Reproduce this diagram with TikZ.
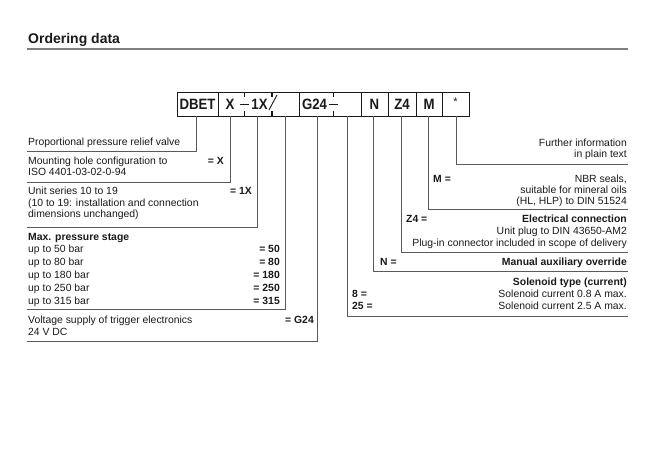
\documentclass[tikz,border=0pt]{standalone}
\usepackage{fontspec}
\setmainfont{Liberation Sans}
\newfontfamily\codefont[FakeStretch=0.88]{Liberation Sans}
\definecolor{ln}{HTML}{5A5A5A}
\definecolor{tx}{HTML}{1A1A1A}
\tikzset{
  txt/.style={inner sep=0pt, text height=7.5bp, text depth=2bp, font=\fontsize{10.4bp}{12bp}\selectfont, text=tx},
  btxt/.style={txt, font=\fontsize{10.4bp}{12bp}\selectfont\bfseries},
  cell/.style={draw=tx, line width=1.1bp, minimum height=24bp, inner sep=0pt, anchor=north west},
  code/.style={inner sep=0pt, font=\codefont\bfseries\fontsize{15bp}{18bp}\selectfont, text=tx},
  conn/.style={draw=ln, line width=1bp},
  tick/.style={draw=tx, line width=0.9bp},
}
\begin{document}
\begin{tikzpicture}[x=1bp,y=-1bp]
\fill[white] (0,0) rectangle (650,465);
\useasboundingbox (0,0) rectangle (650,465);

% title
\node[inner sep=0pt, anchor=west, font=\fontsize{14bp}{16bp}\selectfont\bfseries, text=tx] (title) at (28,40) {Ordering data};
\draw[line width=1.8bp, draw=black!50] (27,49) -- (628,49);

% code cells
\node[cell, minimum width=41bp] (k1) at (177,92) {};
\node[cell, minimum width=81bp] (k2) at (218,92) {};
\node[cell, minimum width=62bp] (k3) at (299,92) {};
\node[cell, minimum width=27bp] (k4) at (361,92) {};
\node[cell, minimum width=28bp] (k5) at (388,92) {};
\node[cell, minimum width=26bp] (k6) at (416,92) {};
\node[cell, minimum width=27bp] (k7) at (442,92) {};

\node[code] (cDBET) at (197.5,104) {DBET};
\node[code] (cX) at (230,104) {X};
\node[code] (c1X) at (259.5,104) {1X};
\node[code] (cG) at (314.5,104) {G24};
\node[code] (cN) at (374.5,104) {N};
\node[code] (cZ) at (402,104) {Z4};
\node[code] (cM) at (429,104) {M};
\node[inner sep=0pt, font=\fontsize{11bp}{12bp}\selectfont, text=tx] (cS) at (455.5,102) {*};

% separators inside code
\draw[tick] (244,92) -- (244,97) (244,111) -- (244,116);
\draw[tick] (239.5,104) -- (248.5,104);
\draw[tick, line width=2bp] (272,92) -- (272,97) (272,111) -- (272,116);
\draw[tick] (269,110) -- (277,95);
\draw[tick] (333,92) -- (333,97) (333,111) -- (333,116);
\draw[tick] (328.5,104) -- (337.5,104);

% connector coordinates
\foreach \n/\x in {a/196,b/230,c/257,d/285,e/317,f/347,g/373,h/401,i/428,j/456}
  \coordinate (t\n) at (\x,116);
\coordinate (ea) at (27,152);
\coordinate (eb) at (27,183);
\coordinate (ec) at (27,228);
\coordinate (ed) at (27,309.5);
\coordinate (ee) at (27,341);
\coordinate (ef) at (628,316);
\coordinate (eg) at (628,272);
\coordinate (eh) at (628,253);
\coordinate (ei) at (628,209.5);
\coordinate (ej) at (628,165);
\foreach \n in {a,b,c,d,e,f,g,h,i,j}
  \draw[conn] (t\n) |- (e\n);

% left descriptions
\node[txt, anchor=west] (l1) at (28,143) {Proportional pressure relief valve};
\node[txt, anchor=west] (l2a) at (28,162) {Mounting hole configuration to};
\node[txt, anchor=west] (l2b) at (28,172.5) {ISO 4401-03-02-0-94};
\node[btxt, anchor=east] (v2) at (224,162) {= X};
\node[txt, anchor=west] (l3a) at (28,192) {Unit series 10 to 19};
\node[txt, anchor=west] (l3b) at (28,204) {(10 to 19: installation and connection};
\node[txt, anchor=west] (l3c) at (28,215) {dimensions unchanged)};
\node[btxt, anchor=east] (v3) at (252,192) {= 1X};
\node[btxt, anchor=west] (l4) at (28,238) {Max. pressure stage};
\node[txt, anchor=west] (l4a) at (28,250) {up to 50 bar};
\node[txt, anchor=west] (l4b) at (28,263) {up to 80 bar};
\node[txt, anchor=west] (l4c) at (28,276) {up to 180 bar};
\node[txt, anchor=west] (l4d) at (28,289) {up to 250 bar};
\node[txt, anchor=west] (l4e) at (28,301.5) {up to 315 bar};
\node[btxt, anchor=east] (v4a) at (280,250) {= 50};
\node[btxt, anchor=east] (v4b) at (280,263) {= 80};
\node[btxt, anchor=east] (v4c) at (280,276) {= 180};
\node[btxt, anchor=east] (v4d) at (280,289) {= 250};
\node[btxt, anchor=east] (v4e) at (280,301.5) {= 315};
\node[txt, anchor=west] (l5a) at (28,321) {Voltage supply of trigger electronics};
\node[txt, anchor=west] (l5b) at (28,333) {24 V DC};
\node[btxt, anchor=east] (v5) at (314,321) {= G24};

% right descriptions
\node[txt, anchor=east] (r1a) at (627,144) {Further information};
\node[txt, anchor=east] (r1b) at (627,155) {in plain text};
\node[btxt, anchor=west] (vM) at (433,180) {M =};
\node[txt, anchor=east] (r2a) at (627,180) {NBR seals,};
\node[txt, anchor=east] (r2b) at (627,191) {suitable for mineral oils};
\node[txt, anchor=east] (r2c) at (627,202) {(HL, HLP) to DIN 51524};
\node[btxt, anchor=west] (vZ) at (406,219.5) {Z4 =};
\node[btxt, anchor=east] (r3a) at (627,219.5) {Electrical connection};
\node[txt, anchor=east] (r3b) at (627,232) {Unit plug to DIN 43650-AM2};
\node[txt, anchor=east] (r3c) at (627,244) {Plug-in connector included in scope of delivery};
\node[btxt, anchor=west] (vN) at (380,263) {N =};
\node[btxt, anchor=east] (r4) at (627,263) {Manual auxiliary override};
\node[btxt, anchor=east] (r5) at (627,283) {Solenoid type (current)};
\node[btxt, anchor=west] (v8) at (352,295) {8 =};
\node[txt, anchor=east] (r5a) at (627,295) {Solenoid current 0.8 A max.};
\node[btxt, anchor=west] (v25) at (352,306.5) {25 =};
\node[txt, anchor=east] (r5b) at (627,306.5) {Solenoid current 2.5 A max.};
\end{tikzpicture}
\end{document}
